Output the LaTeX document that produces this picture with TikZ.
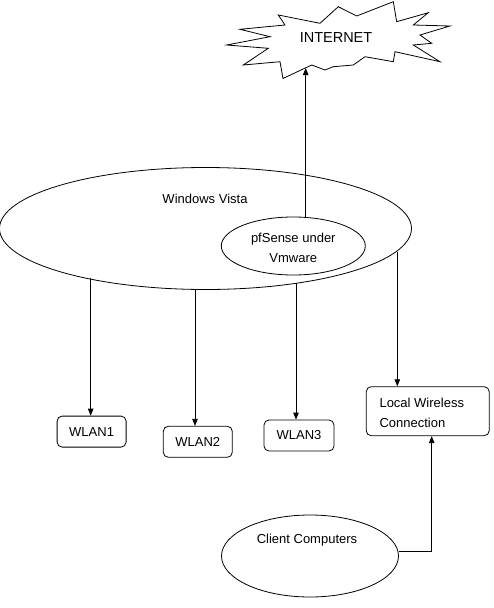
\documentclass[tikz,border=0pt]{standalone}
\usepackage{fontspec}
\setmainfont{Liberation Sans}
\usetikzlibrary{shapes.geometric,arrows.meta}
\tikzset{
  line/.style={draw=black, line width=0.8pt},
  arr/.style={line, -{Triangle[length=7pt,width=5.5pt]}},
  oval/.style={ellipse, line, inner sep=0pt},
  box/.style={rectangle, line, rounded corners=5pt, inner sep=0pt},
  lbl/.style={font=\fontsize{13}{20}\selectfont, align=center},
}
\begin{document}
\begin{tikzpicture}[x=1pt,y=-1pt]
\useasboundingbox[fill=white] (0,0) rectangle (494,608);
% cloud
\draw[line] (278.3,15) -- (320,23.3) -- (338.3,6.7) -- (356.7,16) -- (393.3,1.7) -- (396.7,21.7)
  -- (428.3,12.7) -- (413.3,25) -- (450,26) -- (420,35) -- (431.7,43.3) -- (413.3,45)
  -- (440,61.7) -- (395,51.7) -- (393.3,61.7) -- (365,56.7) -- (353.3,65) -- (333.3,66.7)
  -- (325,70) -- (311.7,65) -- (283,78.5) -- (280,61.7) -- (243.3,65) -- (268.3,48.3)
  -- (226.7,45) -- (270,36.7) -- (240,29.3) -- (285,25) -- cycle;
\node[font=\fontsize{14.5}{16}\selectfont] (inet) at (336,38) {INTERNET};
\coordinate (cloudb) at (305.7,68);
% ellipses
\node[oval, minimum width=412pt, minimum height=122pt] (vista) at (205.5,228.5) {};
\node[lbl] (vistatxt) at (205,199) {Windows Vista};
\node[oval, minimum width=144pt, minimum height=58pt] (pf) at (293.3,246) {};
\node[lbl] (pftxt) at (293.3,248) {pfSense under\\Vmware};
\node[oval, minimum width=177pt, minimum height=82pt] (client) at (310,556) {};
\node[lbl] (clienttxt) at (307,540) {Client Computers};
% boxes
\node[box, minimum width=69pt, minimum height=31pt] (w1) at (91.6,431.6) {};
\node[lbl] at (w1) {WLAN1};
\node[box, minimum width=69pt, minimum height=31pt] (w2) at (197.8,441.8) {};
\node[lbl] at (w2) {WLAN2};
\node[box, minimum width=70pt, minimum height=31pt] (w3) at (299,435.5) {};
\node[lbl] at (w3) {WLAN3};
\node[box, minimum width=123pt, minimum height=49pt] (lw) at (427.7,411.2) {};
\node[lbl, align=left, anchor=west] (lwtxt) at (376,413) {Local Wireless\\Connection};
% connectors
\coordinate (p1) at (305.7,217.5);
\draw[arr] (p1) -- (cloudb);
\coordinate (v1) at (90.7,278.3);
\coordinate (v2) at (195,289.3);
\coordinate (v3) at (296,283);
\coordinate (v4) at (397.3,251.7);
\draw[arr] (v1) -- (v1 |- w1.north);
\draw[arr] (v2) -- (v2 |- w2.north);
\draw[arr] (v3) -- (v3 |- w3.north);
\draw[arr] (v4) -- (v4 |- lw.north);
\coordinate (bend) at (431.7,551.7);
\draw[arr] (client.east |- bend) -- (bend) -- (bend |- lw.south);
\end{tikzpicture}
\end{document}
